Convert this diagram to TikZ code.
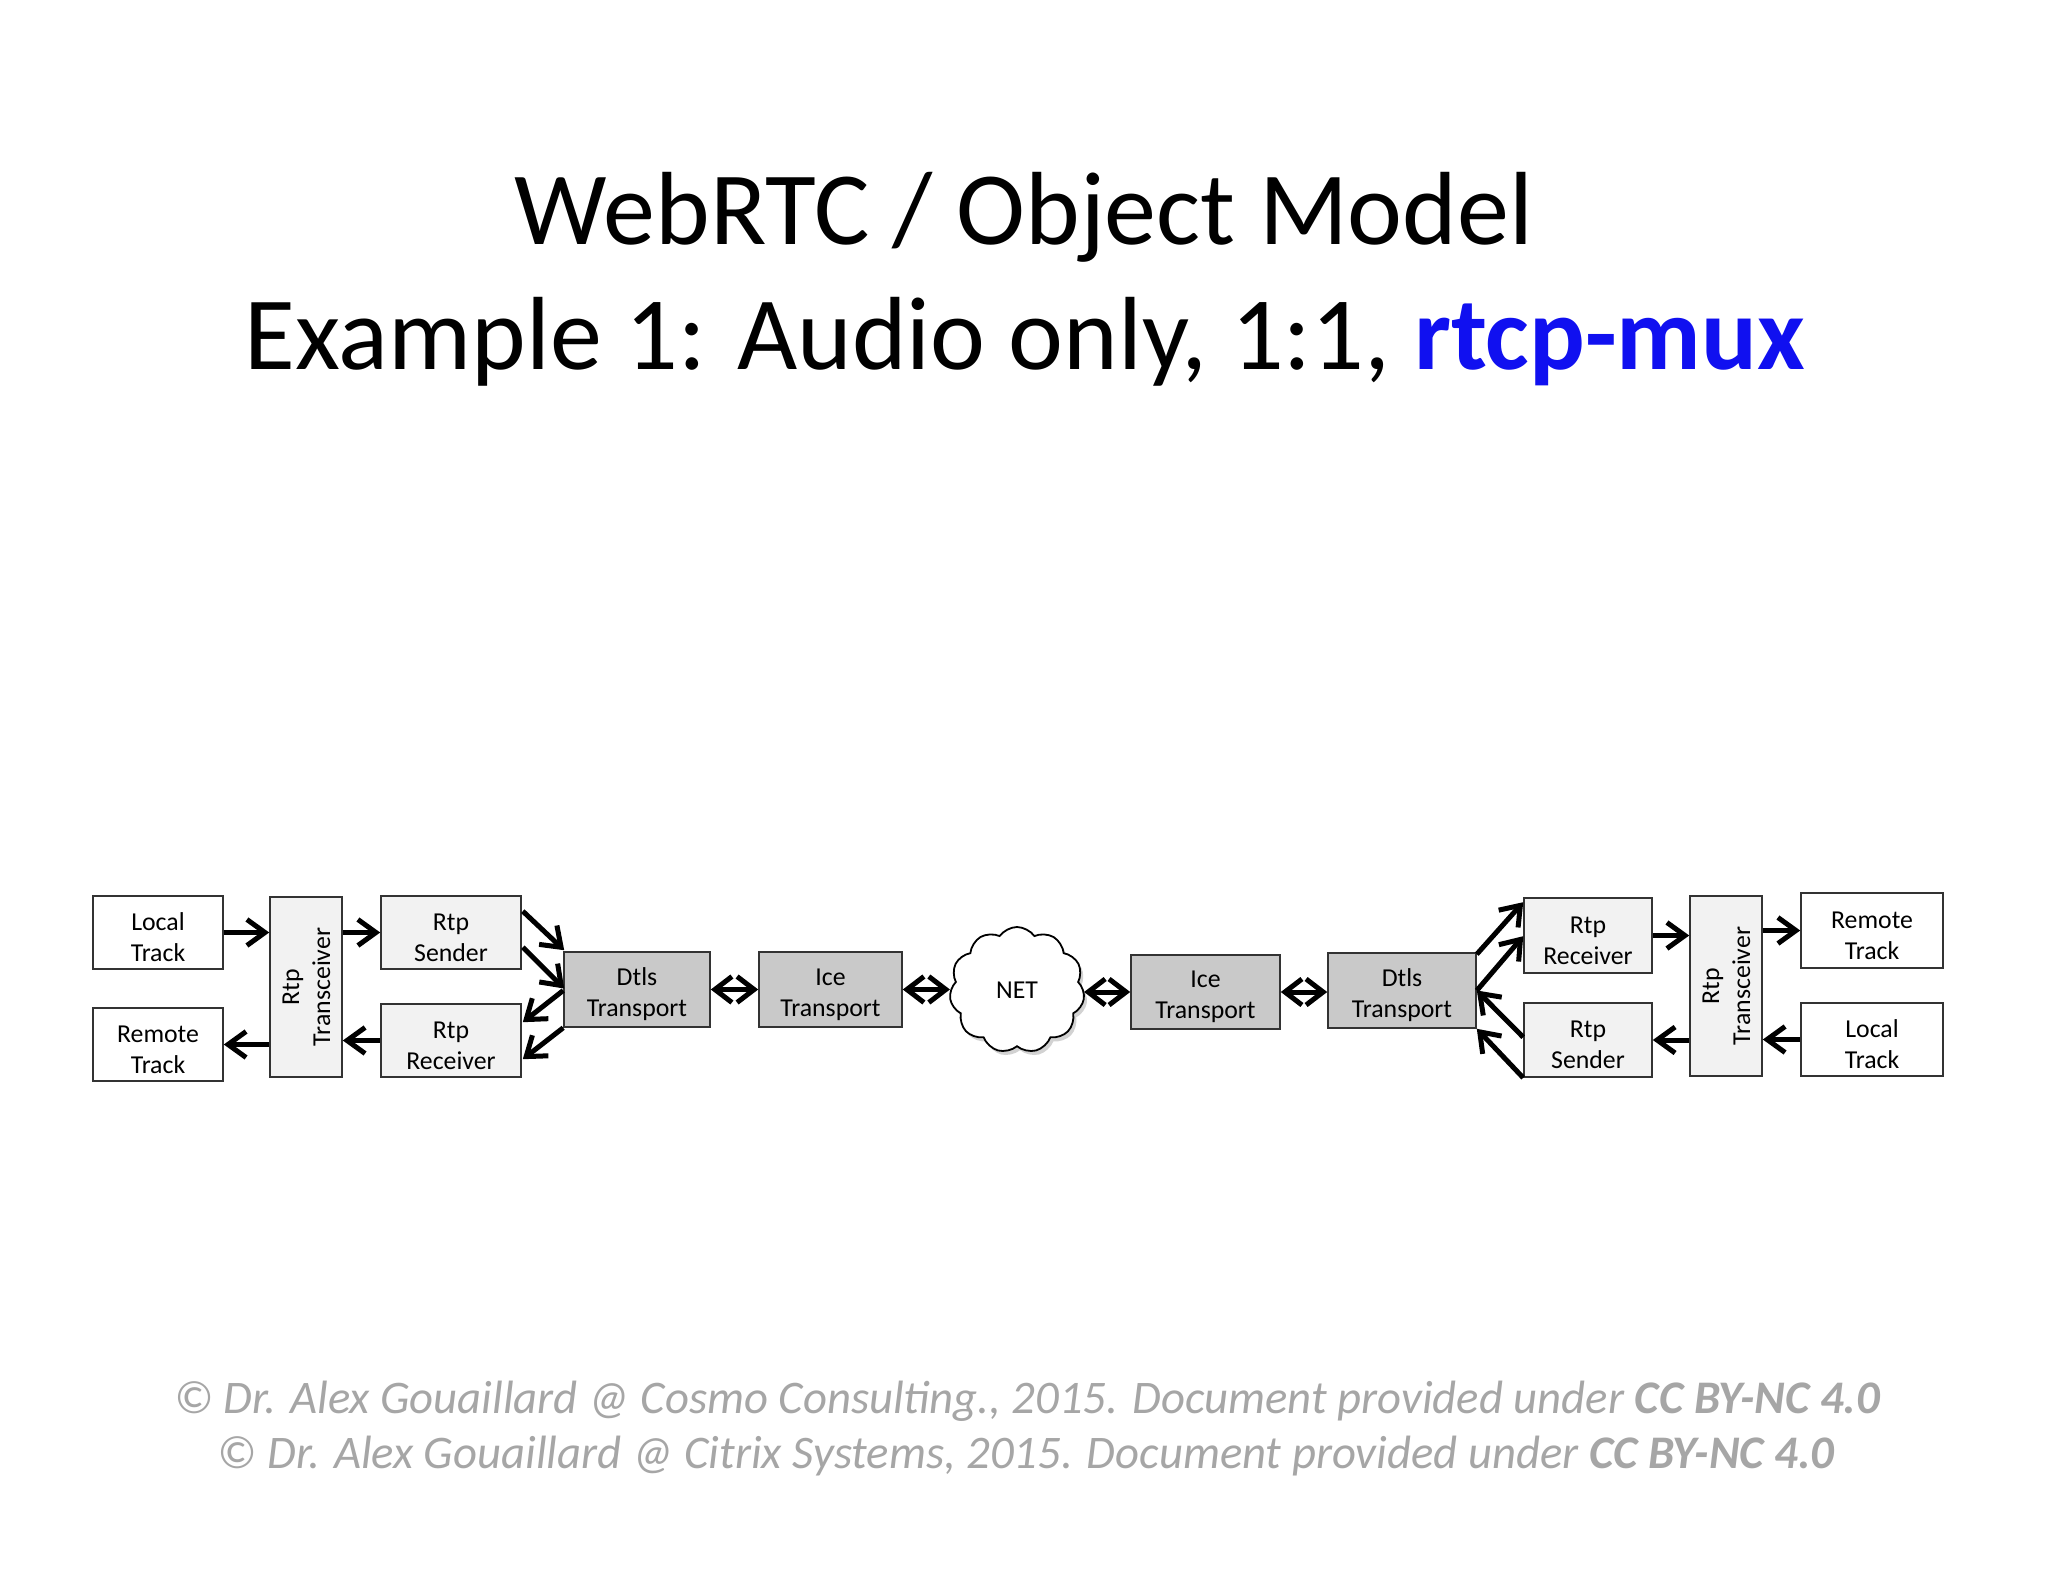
\documentclass[tikz,border=0pt]{standalone}
\usepackage{fontspec}
\setmainfont{Carlito}
\usetikzlibrary{arrows.meta,shapes.symbols,shadows,calc}
\definecolor{rtpfill}{HTML}{F2F2F2}
\definecolor{tpfill}{HTML}{C9C9C9}
\definecolor{edge}{HTML}{333333}
\definecolor{foot}{HTML}{A6A6A6}
\definecolor{muxblue}{HTML}{1010F0}
\newcommand{\upstrut}{\rule{0pt}{13.3pt}}
\tikzset{
  bx/.style={draw=edge, line width=0.8pt, rectangle, inner sep=0pt, align=center,
    font=\fontsize{12.9}{15.5}\selectfont},
  trackbox/.style={bx, fill=white},
  rtpbox/.style={bx, fill=rtpfill},
  tpbox/.style={bx, fill=tpfill},
  arr/.style={line width=2.5pt, -{Straight Barb[length=9pt,width=13pt]}},
  darr/.style={line width=2.5pt, {Straight Barb[length=8.5pt,width=13pt]}-{Straight Barb[length=8.5pt,width=13pt]}},
}
\begin{document}
\begin{tikzpicture}[x=0.5pt,y=-0.5pt]
\path[use as bounding box, fill=white] (0,0) rectangle (2048,1582);

% title
\node[anchor=base, font=\fontsize{52}{62}\selectfont, inner sep=0pt] (t1) at (1024,245) {WebRTC / Object Model};
\node[anchor=base, font=\fontsize{52}{62}\selectfont, inner sep=0pt] (t2) at (1025,370) {Example 1: Audio only, 1:1, \textcolor{muxblue}{\bfseries rtcp-mux}};

% left side
\node[trackbox, minimum width=65pt, minimum height=36.5pt] (ltrackL) at (158,932.5) {\upstrut Local\\Track};
\node[trackbox, minimum width=65pt, minimum height=36.5pt] (rtrackL) at (158,1044.5) {\upstrut Remote\\Track};
\node[rtpbox, minimum width=36pt, minimum height=90pt] (transL) at (306,987) {\rotatebox{90}{\begin{tabular}{@{}c@{}}\upstrut Rtp\\Transceiver\end{tabular}}};
\node[rtpbox, minimum width=70pt, minimum height=36.5pt] (senderL) at (451,932.5) {\upstrut Rtp\\Sender};
\node[rtpbox, minimum width=70pt, minimum height=36.5pt] (receiverL) at (451,1040.5) {\upstrut Rtp\\Receiver};
\node[tpbox, minimum width=73pt, minimum height=37.5pt] (dtlsL) at (637,989.5) {\upstrut Dtls\\Transport};
\node[tpbox, minimum width=71.5pt, minimum height=37.5pt] (iceL) at (830.5,989.5) {\upstrut Ice\\Transport};

% cloud
\node[cloud, cloud puffs=11, cloud puff arc=110, draw=black, line width=0.9pt, fill=white,
  minimum width=67.5pt, minimum height=63pt, inner sep=0pt,
  drop shadow={shadow xshift=1.5pt, shadow yshift=-2pt, opacity=0.35},
  font=\fontsize{12.9}{15.5}\selectfont] (net) at (1017,990) {NET};

% right side
\node[tpbox, minimum width=74.5pt, minimum height=37pt] (iceR) at (1205.5,992) {\upstrut Ice\\Transport};
\node[tpbox, minimum width=74pt, minimum height=37.5pt] (dtlsR) at (1402,990.5) {\upstrut Dtls\\Transport};
\node[rtpbox, minimum width=64pt, minimum height=37.5pt] (receiverR) at (1588,935.5) {\upstrut Rtp\\Receiver};
\node[rtpbox, minimum width=64pt, minimum height=37pt] (senderR) at (1588,1040) {\upstrut Rtp\\Sender};
\node[rtpbox, minimum width=36pt, minimum height=90pt] (transR) at (1726,986) {\rotatebox{90}{\begin{tabular}{@{}c@{}}\upstrut Rtp\\Transceiver\end{tabular}}};
\node[trackbox, minimum width=71pt, minimum height=37.5pt] (remoteR) at (1872,930.5) {\upstrut Remote\\Track};
\node[trackbox, minimum width=71pt, minimum height=36.5pt] (localR) at (1872,1039.5) {\upstrut Local\\Track};

% left arrows
\draw[arr] (ltrackL.east) -- (ltrackL.east -| transL.west);
\draw[arr] (senderL.west -| transL.east) -- (senderL.west);
\draw[arr] (receiverL.west) -- (receiverL.west -| transL.east);
\draw[arr] (rtrackL.east -| transL.west) -- (rtrackL.east);
\draw[arr] ($(senderL.north east)+(1,16)$) -- ($(dtlsL.north west)+(1,-1)$);
\draw[arr] ($(senderL.north east)+(1,52)$) -- ($(dtlsL.west)+(1,-1)$);
\draw[arr] ($(dtlsL.west)+(0,1)$) -- ($(receiverL.north east)+(1,19)$);
\draw[arr] ($(dtlsL.south west)+(0,0)$) -- ($(receiverL.north east)+(1,56)$);

% middle double arrows
\draw[darr] (dtlsL.east) -- (iceL.west);
\draw[darr] (iceL.east) -- (iceL.east -| net.west);
\draw[darr] (iceR.west -| net.east) -- (iceR.west);
\draw[darr] (iceR.east) -- (iceR.east -| dtlsR.west);

% right arrows
\draw[arr] ($(dtlsR.north east)+(0,2)$) -- ($(receiverR.north west)+(0,5)$);
\draw[arr] (dtlsR.east) -- ($(receiverR.north west)+(0,39)$);
\draw[arr] ($(senderR.north west)+(0,35)$) -- (dtlsR.east);
\draw[arr] (senderR.south west) -- (dtlsR.south east);
\draw[arr] (receiverR.east) -- (receiverR.east -| transR.west);
\draw[arr] (remoteR.west -| transR.east) -- (remoteR.west);
\draw[arr] (localR.west) -- (localR.west -| transR.east);
\draw[arr] (senderR.east -| transR.west) -- (senderR.east);

% footer
\node[anchor=base, inner sep=0pt, text=foot, font=\fontsize{23.35}{28}\selectfont\itshape] (f1) at (1027,1413)
  {© Dr. Alex Gouaillard @ Cosmo Consulting., 2015. Document provided under \textbf{CC BY-NC 4.0}};
\node[anchor=base, inner sep=0pt, text=foot, font=\fontsize{23.35}{28}\selectfont\itshape] (f2) at (1026,1468)
  {© Dr. Alex Gouaillard @ Citrix Systems, 2015. Document provided under \textbf{CC BY-NC 4.0}};
\end{tikzpicture}
\end{document}
